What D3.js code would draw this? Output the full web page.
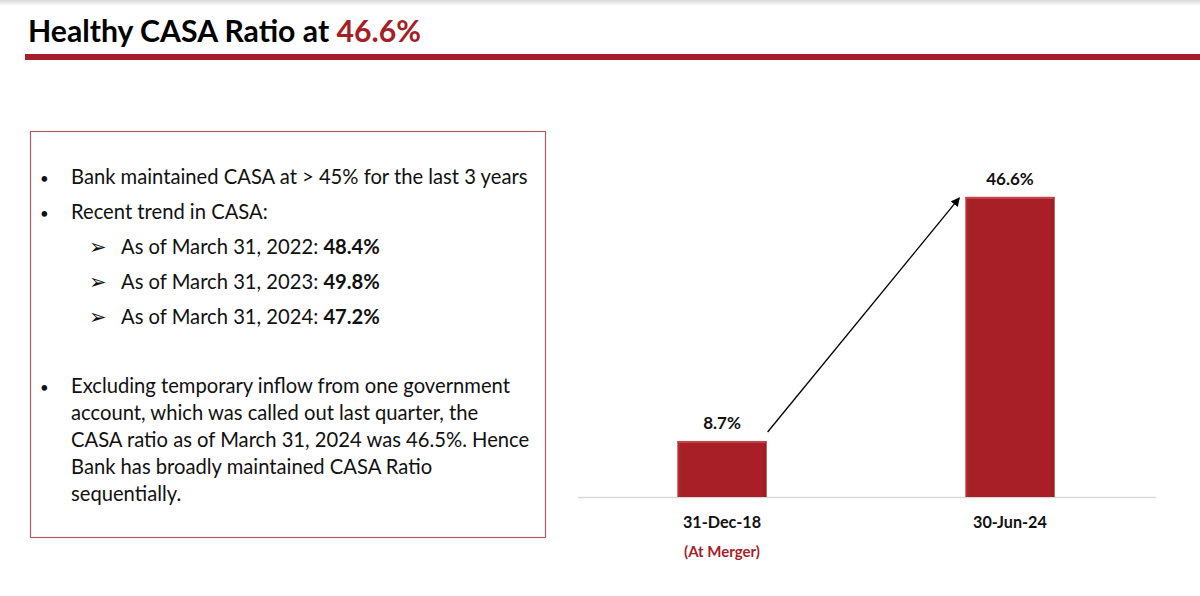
<!DOCTYPE html>
<html><head><meta charset="utf-8">
<script src="https://cdn.jsdelivr.net/npm/d3@7"></script>
<style>
html,body{margin:0;padding:0;background:#fff;}
svg{display:block;font-family:Lato,"Open Sans",sans-serif;}
</style></head>
<body>
<svg id="c" width="1200" height="596"></svg>
<script>
const categories = ["31-Dec-18", "30-Jun-24"];
const subLabels = ["(At Merger)", ""];
const casaValues = [8.7, 46.6];
const valueLabels = ["8.7%", "46.6%"];
const titleText = "Healthy CASA Ratio at ";
const titleHighlight = "46.6%";
const bulletsTop = ["Bank maintained CASA at > 45% for the last 3 years", "Recent trend in CASA:"];
const trendYears = ["As of March 31, 2022: ", "As of March 31, 2023: ", "As of March 31, 2024: "];
const trendValues = ["48.4%", "49.8%", "47.2%"];
const bulletBottom = ["Excluding temporary inflow from one government", "account, which was called out last quarter, the", "CASA ratio as of March 31, 2024 was 46.5%. Hence", "Bank has broadly maintained CASA Ratio", "sequentially."];

const RED = "#a61e28";
const svg = d3.select("#c");

const defs = svg.append("defs");
const g1 = defs.append("linearGradient").attr("id","topsh").attr("x1",0).attr("x2",0).attr("y1",0).attr("y2",1);
g1.append("stop").attr("offset",0).attr("stop-color","#d8d8d8");
g1.append("stop").attr("offset",1).attr("stop-color","#ffffff");
svg.append("rect").attr("x",0).attr("y",0).attr("width",1200).attr("height",6).attr("fill","url(#topsh)");

const bg = defs.append("linearGradient").attr("id","barg").attr("x1",0).attr("x2",1).attr("y1",0).attr("y2",0);
bg.append("stop").attr("offset",0).attr("stop-color","#b8323a");
bg.append("stop").attr("offset",0.04).attr("stop-color","#a91f27");
bg.append("stop").attr("offset",0.96).attr("stop-color","#a91f27");
bg.append("stop").attr("offset",1).attr("stop-color","#8e1920");

// title
const t = svg.append("text").attr("x",28).attr("y",42).attr("font-size",30.2).attr("font-weight","bold").attr("fill","#000");
t.append("tspan").text(titleText);
t.append("tspan").attr("fill",RED).text(titleHighlight);

svg.append("rect").attr("x",25).attr("y",54).attr("width",1175).attr("height",6).attr("fill",RED);

// text box
svg.append("rect").attr("x",30.5).attr("y",131.5).attr("width",515).attr("height",406)
  .attr("fill","none").attr("stroke","#b45a62").attr("stroke-width",1.2);

const fs = 20.2;
const tg = svg.append("g").attr("font-size",fs).attr("fill","#111");
const bullet = (yy)=>tg.append("text").attr("x",40).attr("y",yy).attr("font-size",15).text("•");
const topY = [184, 219];
bulletsTop.forEach((s,i)=>{
  bullet(topY[i]);
  tg.append("text").attr("x",71).attr("y",topY[i]).text(s);
});
const trendY = [254, 289, 324];
trendYears.forEach((s,i)=>{
  tg.append("text").attr("x",89).attr("y",trendY[i]).attr("font-family","DejaVu Sans").attr("font-size",21).text("➢");
  const tx = tg.append("text").attr("x",121).attr("y",trendY[i]);
  tx.append("tspan").text(s);
  tx.append("tspan").attr("font-weight","bold").text(trendValues[i]);
});
const botY = [393, 420, 447, 474, 501];
bullet(botY[0]);
bulletBottom.forEach((s,i)=>{
  tg.append("text").attr("x",71).attr("y",botY[i]).text(s);
});

// chart
const x = d3.scaleBand().domain(categories).range([578,1154]).paddingInner(0.69).paddingOuter(0.345);
const y = d3.scaleLinear().domain([0,50]).range([497,175]);

svg.append("line").attr("x1",578).attr("x2",1156).attr("y1",497.5).attr("y2",497.5).attr("stroke","#d9d9d9").attr("stroke-width",1.5);

svg.selectAll("rect.bar").data(casaValues).join("rect").attr("class","bar")
  .attr("x",(d,i)=>x(categories[i])).attr("width",x.bandwidth())
  .attr("y",d=>y(d)).attr("height",d=>y(0)-y(d)).attr("fill","url(#barg)");
svg.selectAll("rect.bartop").data(casaValues).join("rect").attr("class","bartop")
  .attr("x",(d,i)=>x(categories[i])).attr("width",x.bandwidth())
  .attr("y",d=>y(d)).attr("height",2).attr("fill","#c4444b");

svg.selectAll("text.val").data(casaValues).join("text").attr("class","val")
  .attr("x",(d,i)=>x(categories[i])+x.bandwidth()/2).attr("y",d=>y(d)-12)
  .attr("text-anchor","middle").attr("font-weight","bold").attr("font-size",17).attr("fill","#111")
  .text((d,i)=>valueLabels[i]);

svg.selectAll("text.cat").data(categories).join("text").attr("class","cat")
  .attr("x",d=>x(d)+x.bandwidth()/2).attr("y",528)
  .attr("text-anchor","middle").attr("font-weight","bold").attr("font-size",16.2).attr("fill","#111")
  .text(d=>d);
svg.selectAll("text.sub").data(subLabels).join("text").attr("class","sub")
  .attr("x",(d,i)=>x(categories[i])+x.bandwidth()/2).attr("y",557)
  .attr("text-anchor","middle").attr("font-weight","bold").attr("font-size",15).attr("fill",RED)
  .text(d=>d);

// arrow
defs.append("marker").attr("id","ah").attr("viewBox","0 0 10 10").attr("refX",9).attr("refY",5)
  .attr("markerWidth",9).attr("markerHeight",9).attr("orient","auto").attr("markerUnits","userSpaceOnUse")
  .append("path").attr("d","M0,0L10,5L0,10z").attr("fill","#000");
const x0 = x(categories[0])+x.bandwidth()+1, x1 = x(categories[1])-6;
svg.append("line").attr("x1",x0).attr("y1",y(casaValues[0])-9).attr("x2",x1).attr("y2",y(casaValues[1])+1)
  .attr("stroke","#000").attr("stroke-width",1.3).attr("marker-end","url(#ah)");
</script>
</body></html>
